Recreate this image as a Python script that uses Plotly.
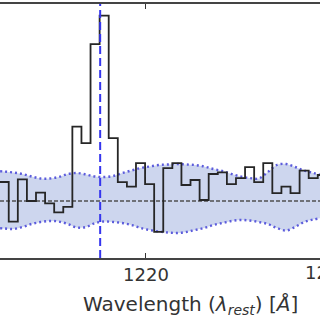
import plotly.graph_objects as go

# Bin centres (rest wavelength, Angstrom)
wavelength = [1215.85, 1216.10, 1216.35, 1216.60, 1216.85, 1217.10, 1217.35, 1217.60, 1217.85,
              1218.10, 1218.35, 1218.60, 1218.85, 1219.10, 1219.35, 1219.60, 1219.85, 1220.10,
              1220.35, 1220.60, 1220.85, 1221.10, 1221.35, 1221.60, 1221.85, 1222.10, 1222.35,
              1222.60, 1222.85, 1223.10, 1223.35, 1223.60, 1223.85, 1224.10, 1224.35, 1224.60,
              1224.85]
flux = [0.95, 0.95, -1.03, 1.08, 0.00, 0.42, -0.12, -0.57, -0.29,
        3.72, 2.89, 7.84, 9.27, 3.14, 0.94, 0.72, 1.89, 0.84, -1.54,
        1.64, 1.89, 0.80, 1.05, 0.05, 1.35, 1.43, 0.84, 1.14, 1.69,
        0.94, 1.89, 0.39, 0.72, 0.39, 1.52, 1.14, 1.30]
sigma_upper = [1.50, 1.475, 1.425, 1.35, 1.225, 1.125, 1.125, 1.2, 1.35, 1.4, 1.325, 1.225,
               1.2, 1.25, 1.4, 1.525, 1.65, 1.725, 1.8, 1.825, 1.85, 1.825, 1.8, 1.725,
               1.6, 1.5, 1.35, 1.225, 1.15, 1.125, 1.45, 1.8, 1.85, 1.7, 1.525, 1.4, 1.275]
sigma_lower = [-1.35, -1.375, -1.4, -1.3, -1.15, -1.05, -1.0, -1.025, -1.15, -1.325, -1.3, -1.1,
               -1.025, -1.05, -1.1, -1.2, -1.35, -1.45, -1.525, -1.575, -1.6, -1.55, -1.45, -1.35,
               -1.2, -1.1, -1.0, -0.95, -0.975, -1.05, -1.15, -1.35, -1.475, -1.3, -1.05, -0.925, -0.85]
line_wavelength = 1218.74
bin_width = 0.25
x_range = [1215.985, 1224.786]
y_range = [-2.85, 9.85]
tick_values = [1220, 1225]

FONT = "DejaVu Sans"
edges = [w - bin_width / 2 for w in wavelength] + [wavelength[-1] + bin_width / 2]
step_vals = flux + [flux[-1]]

fig = go.Figure()
fig.add_trace(go.Scatter(x=wavelength, y=sigma_lower, mode="lines",
                         line=dict(color="#5c5cdc", width=2.4, dash="2px,3px", shape="spline"),
                         hoverinfo="skip"))
fig.add_trace(go.Scatter(x=wavelength, y=sigma_upper, mode="lines", fill="tonexty",
                         fillcolor="rgba(200,210,236,0.9)",
                         line=dict(color="#5c5cdc", width=2.4, dash="2px,3px", shape="spline"),
                         hoverinfo="skip"))
fig.add_trace(go.Scatter(x=x_range, y=[0, 0], mode="lines",
                         line=dict(color="#505050", width=1.3, dash="4px,2px")))
fig.add_trace(go.Scatter(x=edges, y=step_vals, mode="lines",
                         line=dict(color="#262626", width=1.8, shape="hv")))
fig.add_trace(go.Scatter(x=[line_wavelength, line_wavelength], y=y_range, mode="lines",
                         line=dict(color="#3535ee", width=2, dash="8px,4px")))

fig.update_layout(
    width=320, height=320,
    margin=dict(l=0, r=0, t=4, b=62),
    paper_bgcolor="white", plot_bgcolor="white",
    showlegend=False,
    font=dict(family=FONT, color="#333333"),
    xaxis=dict(range=x_range, tickvals=tick_values[:1], ticks="inside", ticklen=5,
               tickwidth=1.3, tickcolor="#333333", showline=True, linecolor="#444444",
               linewidth=1.5, mirror="allticks", showgrid=False, zeroline=False,
               tickfont=dict(size=18, family=FONT, color="#333333")),
    yaxis=dict(range=y_range, visible=False),
)

frac = (tick_values[1] - x_range[0]) / (x_range[1] - x_range[0])
fig.add_annotation(x=frac, y=-0.057, xref="paper", yref="paper", text=str(tick_values[1]),
                   showarrow=False, xanchor="center", yanchor="middle",
                   font=dict(size=18, family=FONT, color="#333333"))
fig.add_annotation(x=0.594, y=-0.185, xref="paper", yref="paper",
                   text="Wavelength (<i>λ</i><sub><i>rest</i></sub>) [<i>Å</i>]",
                   showarrow=False, xanchor="center", yanchor="middle",
                   font=dict(size=20, family=FONT, color="#333333"))

fig.write_html("out.html")
